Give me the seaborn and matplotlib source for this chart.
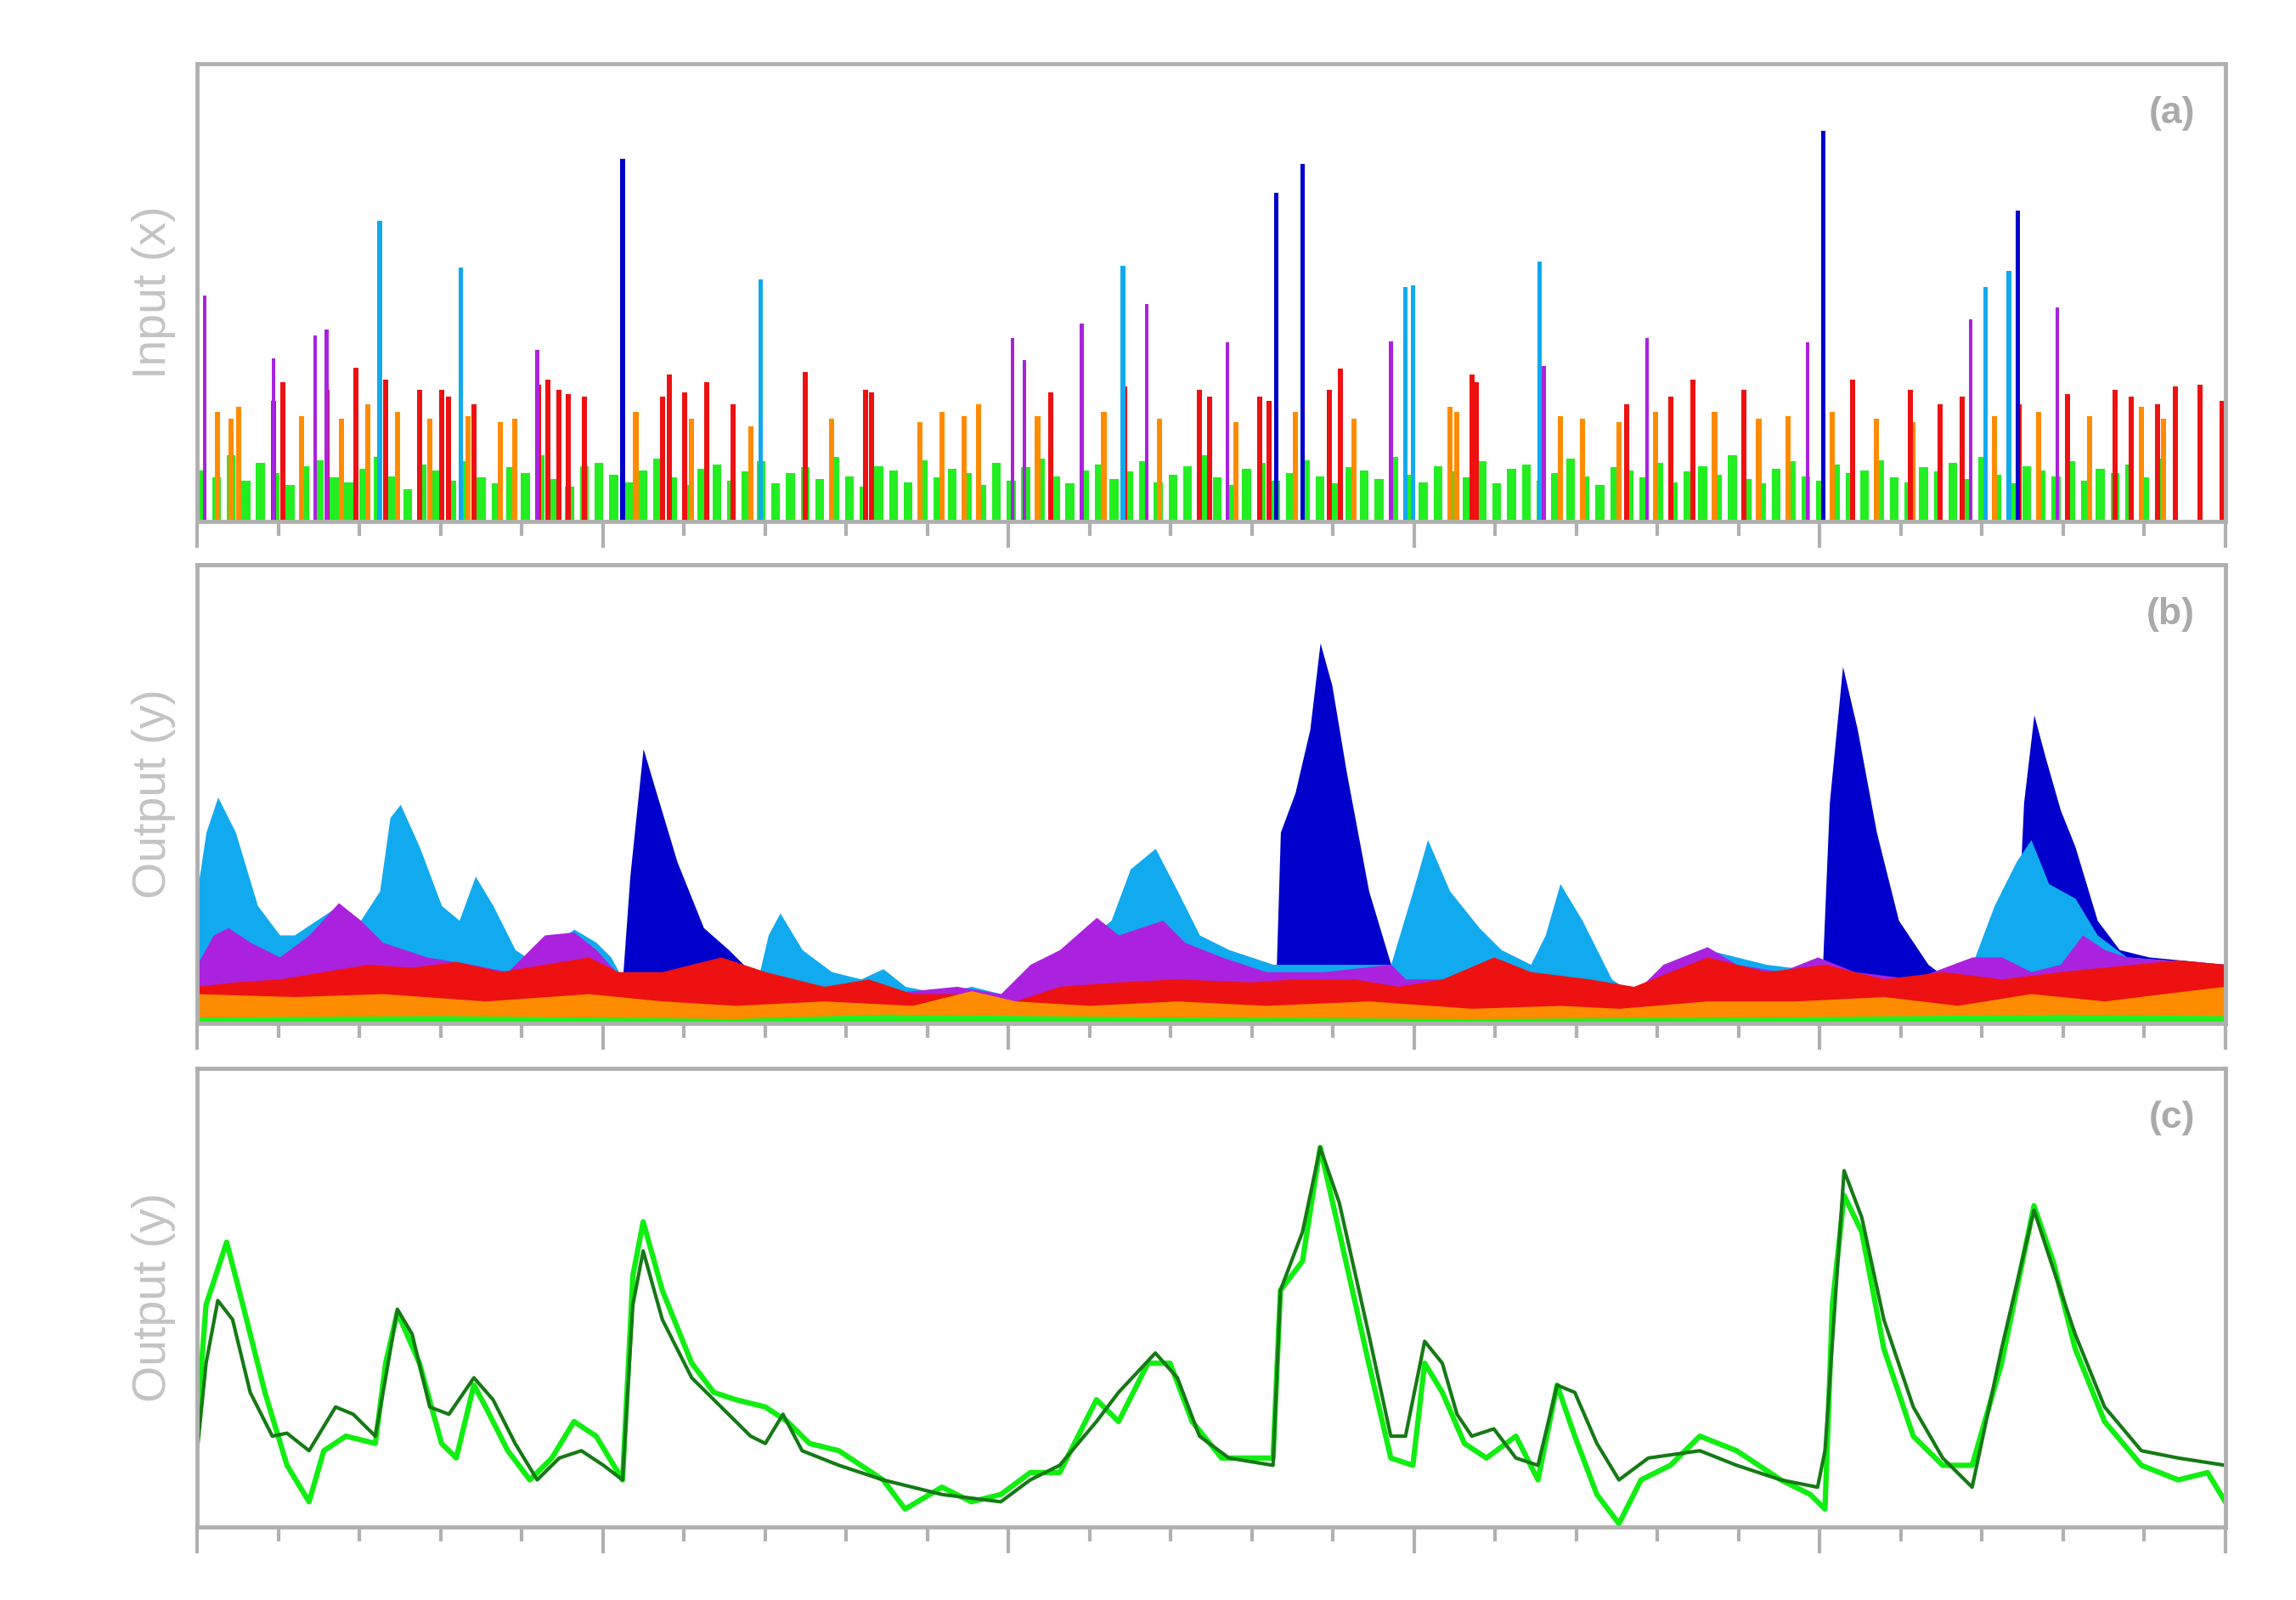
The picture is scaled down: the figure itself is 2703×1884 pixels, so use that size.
import numpy as np
import matplotlib
matplotlib.use("Agg")
import matplotlib.pyplot as plt
import pandas as pd
import seaborn as sns

sns.set_theme(style="white")
plt.rcParams['font.family'] = ['Liberation Sans', 'DejaVu Sans']

# ---------------- Panel (a): input spikes (sample index, height) ----------------
green_vals = [35,30,45,28,40,33,25,38,42,30,27,36,44,31,22,39,35,28,41,30,
              26,37,33,45,29,24,38,40,32,27,35,43,30,25,36,39,28,34,41,26,
              33,37,29,44,31,24,38,35,27,42,30,36,33,25,40,28,37,43,31,26,
              35,39,29,34,41,27,32,38,45,30,25,36,40,28,33,42,31,26,37,35,
              29,44,32,27,38,34,30,41,26,36,39,28,33,43,31,25,37,35,30,40,
              27,34,38,32,45,29,26,36,41,31,28,39,33,35,42,30,27,37,34,40,
              29,44,32,26,38,35,31,41,28,36,33,39,30,43]
green_step = 10

red_x = [52,58,88,108,128,151,166,171,188,232,238,246,252,263,316,321,331,346,364,413,
         454,458,580,630,681,688,722,728,769,777,866,869,971,1001,1016,1051,1125,1164,1184,1199,
         1238,1271,1303,1314,1332,1344,1361,1376]
red_h = [82,95,90,105,97,90,90,85,80,93,97,90,87,85,85,100,88,95,80,102,
         90,88,88,92,90,85,85,82,90,104,100,95,80,85,97,90,97,90,80,85,
         80,87,90,85,80,92,93,82]
orange_x = [14,23,28,71,98,116,136,158,184,206,216,298,336,376,431,491,506,521,531,571,
            616,654,706,746,786,851,856,926,941,966,991,1031,1061,1081,1111,1141,1166,1221,1251,1286,
            1321,1336]
orange_h = [75,70,78,72,70,80,75,70,72,68,70,75,70,65,70,68,75,72,80,72,
            75,70,68,75,70,78,75,72,70,68,75,75,70,72,75,70,68,72,75,72,
            78,70]
purple_x = [5,52,80,88,231,554,562,601,645,700,811,915,985,1094,1205,1264]
purple_h = [154,111,127,131,117,125,110,135,148,122,123,106,125,122,138,146]
cyan_x = [124,179,383,629,821,826,912,1215,1231]
cyan_h = [205,173,165,174,160,161,177,160,171]
blue_x = [289,733,751,1105,1237]
blue_h = [247,224,244,266,212]

# ---------------- Panel (b): stacked outputs (cumulative tops) ----------------
blue_segments = [
    ([288,289,294,303,311,326,344,361,381,382], [0,30,100,187,160,110,65,50,30,0]),
    ([732,733,736,746,756,763,771,781,796,811,826,827], [0,30,130,157,200,259,230,170,90,40,30,0]),
    ([1103,1104,1109,1118,1128,1141,1156,1176,1196,1200], [0,30,150,243,200,130,70,40,25,0]),
    ([1230,1236,1241,1248,1256,1266,1276,1291,1306,1326,1378], [0,40,150,210,180,145,120,70,50,45,40]),
]
cyan_t = [0,6,14,26,41,56,66,81,96,111,124,131,138,151,166,178,189,201,216,231,
          244,256,271,281,289,381,388,396,411,431,451,466,481,506,526,546,566,596,621,634,
          651,666,681,701,731,766,811,826,836,851,871,886,906,916,926,941,961,976,996,1026,
          1066,1106,1166,1206,1221,1236,1246,1258,1276,1291,1311,1378]
cyan_y = [90,130,154,130,80,60,60,70,80,70,90,140,149,120,80,70,100,80,50,40,
          55,64,55,45,30,30,60,75,50,35,30,37,25,20,25,20,30,50,70,105,
          119,90,60,50,40,40,40,90,125,90,65,50,40,60,95,70,30,20,35,50,
          40,35,30,40,80,110,125,95,85,60,45,40]
purple_t = [0,11,21,36,56,76,96,111,126,156,186,211,236,256,271,289,326,386,426,466,
            516,546,566,586,611,626,656,671,696,726,766,811,821,866,906,946,976,996,1026,1046,
            1076,1101,1126,1166,1206,1226,1246,1266,1281,1296,1311,1378]
purple_y = [40,60,65,55,45,60,82,70,55,45,40,35,60,62,50,30,30,25,20,20,
            25,20,40,50,72,60,70,55,45,35,35,40,30,30,30,25,20,40,52,40,
            35,45,35,30,45,45,35,40,60,50,45,40]
red_t = [0,26,56,86,116,146,176,206,236,266,286,316,356,386,426,456,486,516,556,586,
         626,666,716,746,786,816,846,881,906,946,976,1026,1066,1106,1146,1186,1226,1266,1316,1346,1378]
red_y = [25,28,30,35,40,38,42,35,40,45,35,35,45,35,25,30,20,20,15,25,
         28,30,28,30,30,25,30,45,35,30,25,45,35,40,30,35,30,35,40,43,40]
orange_t = [0,66,126,196,266,316,366,426,486,526,556,606,666,726,796,866,926,966,1026,1086,
            1146,1196,1246,1296,1336,1378]
orange_y = [20,18,20,15,20,15,12,15,12,22,15,12,15,12,15,10,12,10,15,15,
            18,12,20,15,20,25]
green_t = [0,166,366,466,666,866,1066,1266,1378]
green_y = [4,5,3,6,4,3,4,6,5]

# ---------------- Panel (c): model vs. measured output ----------------
model_t = [0,6,14,24,36,51,61,76,94,106,121,128,136,146,158,171,188,201,216,231,
           246,261,276,289,296,303,316,336,356,376,386,398,411,436,466,506,546,566,586,611,
           626,651,666,681,701,731,736,751,763,776,796,811,821,834,846,856,866,881,896,911,
           924,936,951,966,986,1021,1046,1076,1101,1106,1119,1131,1146,1166,1186,1206,1226,1248,1261,1276,
           1296,1321,1346,1378]
model_y = [50,110,153,140,90,60,62,50,80,75,60,100,147,130,80,75,100,85,55,30,
           45,50,40,30,150,187,140,100,80,60,55,75,50,40,30,20,15,30,40,70,
           90,117,100,60,45,40,160,200,258,220,130,60,60,125,110,75,60,65,45,40,
           95,90,55,30,45,50,40,30,25,50,242,210,140,80,45,25,120,215,175,130,
           80,50,45,40]
meas_t = [0,6,20,31,46,61,76,86,101,121,128,136,151,166,176,188,196,211,226,241,
          256,271,289,296,303,316,336,351,366,386,401,416,436,466,481,506,526,546,566,586,
          611,626,646,661,676,696,731,736,751,763,776,796,811,826,834,846,861,876,896,911,
          924,936,951,966,981,1001,1021,1046,1076,1096,1106,1111,1119,1131,1146,1166,1186,1206,1226,1248,
          1261,1276,1296,1321,1346,1366,1378]
meas_y = [70,150,193,150,90,40,15,50,60,55,110,145,110,55,45,95,80,50,30,45,
          70,60,30,170,207,160,110,90,85,80,70,55,50,30,10,25,15,20,35,35,
          85,70,110,110,70,45,45,160,180,258,200,110,45,40,110,90,55,45,60,30,
          95,60,20,0,30,40,60,50,30,20,10,150,225,200,120,60,40,40,110,218,
          180,120,70,40,30,35,15]

# ---------------- Drawing ----------------
C_GREEN = "#22ee22"; C_ORANGE = "#ff8c00"; C_RED = "#ee1111"
C_PURPLE = "#aa22dd"; C_CYAN = "#11aaee"; C_BLUE = "#0000cc"; C_DARK = "#157a15"
GREY = "#b0b0b0"

fig = plt.figure(figsize=(27.03, 18.84), dpi=100)
L, W, H = 0.0859, 0.8833, 0.2862
axa = fig.add_axes([L, 0.674, W, H])
axb = fig.add_axes([L, 0.3606, W, H])
axc = fig.add_axes([L, 0.0459, W, H])

# (a)
gx = np.arange(len(green_vals)) * green_step
axa.bar(gx, green_vals, width=6, color=C_GREEN, align="edge", linewidth=0)
axa.bar(orange_x, orange_h, width=3.5, color=C_ORANGE, linewidth=0)
axa.bar(red_x, red_h, width=3.5, color=C_RED, linewidth=0)
axa.bar(purple_x, purple_h, width=2.5, color=C_PURPLE, linewidth=0)
axa.bar(cyan_x, cyan_h, width=3, color=C_CYAN, linewidth=0)
axa.bar(blue_x, blue_h, width=3, color=C_BLUE, linewidth=0)
axa.set_ylim(0, 312)

# (b)
for bx, by in blue_segments:
    axb.fill_between(bx, 0, by, color=C_BLUE, linewidth=0)
axb.fill_between(cyan_t, 0, cyan_y, color=C_CYAN, linewidth=0)
axb.fill_between(purple_t, 0, purple_y, color=C_PURPLE, linewidth=0)
axb.fill_between(red_t, 0, red_y, color=C_RED, linewidth=0)
axb.fill_between(orange_t, 0, orange_y, color=C_ORANGE, linewidth=0)
axb.fill_between(green_t, 0, green_y, color=C_GREEN, linewidth=0)
axb.set_ylim(0, 312)

# (c)
sns.lineplot(x=meas_t, y=meas_y, ax=axc, color="#11ee11", linewidth=4.5)
sns.lineplot(x=model_t, y=model_y, ax=axc, color=C_DARK, linewidth=3)
axc.set_ylim(-2, 312)

for ax, lab, yl in [(axa, "(a)", "Input (x)"), (axb, "(b)", "Output (y)"), (axc, "(c)", "Output (y)")]:
    ax.set_xlim(0, 1378)
    ax.set_xticks(np.arange(0, 1379, 275.6))
    ax.set_xticks(np.arange(0, 1379, 55.12), minor=True)
    ax.set_yticks([])
    ax.tick_params(axis="x", which="major", bottom=True, length=22, width=3, color=GREY,
                   labelbottom=False, direction="out")
    ax.tick_params(axis="x", which="minor", bottom=True, length=12, width=3, color=GREY,
                   direction="out")
    for s in ax.spines.values():
        s.set_color(GREY)
        s.set_linewidth(3.5)
    ax.set_ylabel(yl, fontsize=40, color="#c4c4c4", labelpad=18)
    ax.text(0.985, 0.93, lab, transform=ax.transAxes, ha="right", va="top",
            fontsize=32, fontweight="bold", color="#aaaaaa")

fig.savefig("out.png", dpi=100)
